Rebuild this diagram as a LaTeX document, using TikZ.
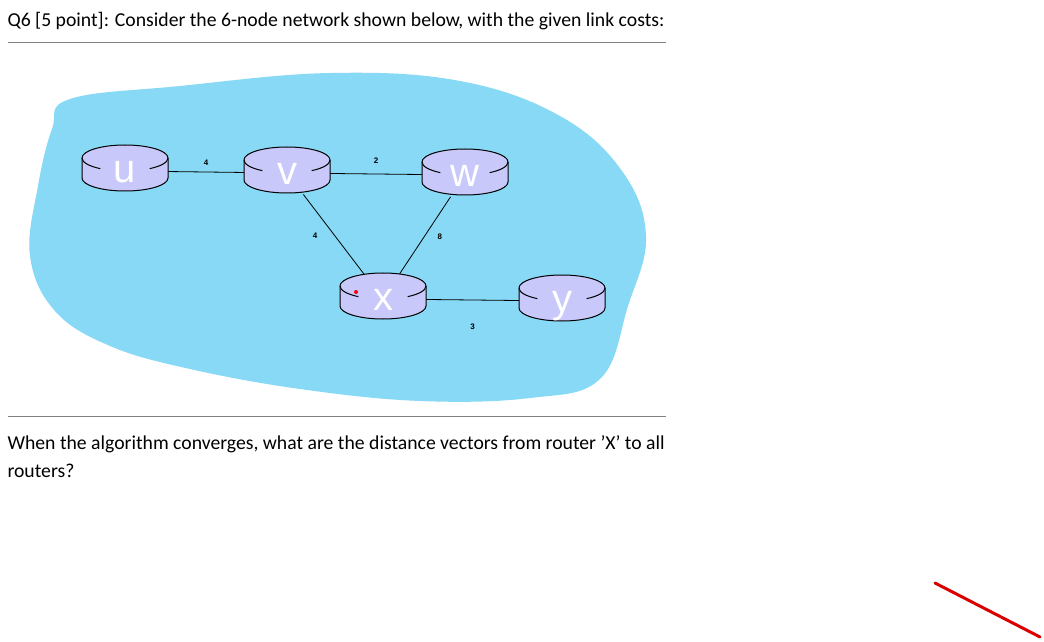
\documentclass[tikz,border=0pt]{standalone}
\usepackage{fontspec}
\setmainfont{Carlito}
\newfontfamily\linkfont{Liberation Sans}
\usetikzlibrary{shapes.geometric}
\definecolor{cloudblue}{RGB}{135,217,245}
\definecolor{routerfill}{RGB}{200,200,250}
\tikzset{
  router/.style={ellipse, minimum width=86pt, minimum height=46pt, inner sep=0pt},
  routerlabel/.style={text=white, inner sep=0pt, text height=21pt, text depth=0pt,
    font=\linkfont\fontsize{40}{40}\selectfont},
  link/.style={draw=black, line width=0.8pt},
  cost/.style={font=\linkfont\bfseries\fontsize{8}{8}\selectfont},
  body/.style={font=\fontsize{19.7}{19.7}\selectfont, anchor=west}
}
\newcommand{\drawrouter}[2]{% #1 = x, #2 = y
  \fill[routerfill, draw=black, line width=1pt]
    (#1-43,#2+10) -- (#1-43,#2-10) arc[start angle=180, end angle=360, x radius=43, y radius=13]
    -- (#1+43,#2+10) arc[start angle=0, end angle=180, x radius=43, y radius=13] -- cycle;
  \draw[line width=1pt] (#1-43,#2+10) arc[start angle=180, end angle=235, x radius=43, y radius=13];
  \draw[line width=1pt] (#1+43,#2+10) arc[start angle=360, end angle=305, x radius=43, y radius=13];
}
\begin{document}
\begin{tikzpicture}[x=1pt, y=1pt]
  \useasboundingbox (0,0) rectangle (1044,641);
  % title and rules
  \node[body] (title) at (4,620) {Q6 [5 point]: Consider the 6-node network shown below, with the given link costs:};
  \draw[gray, line width=0.6pt] (8,599) -- (666,599);
  \draw[gray, line width=0.6pt] (8,225) -- (666,225);
  \node[body] (question) at (4,197) {When the algorithm converges, what are the distance vectors from router 'X' to all};
  \node[body] (question2) at (4,170) {routers?};
  % cloud
  \fill[cloudblue] plot[smooth cycle, tension=0.65] coordinates {
    (70,542) (180,555) (330,568) (460,560) (560,525) (622,470) (646,405)
    (628,335) (600,262) (530,243) (420,240) (300,252) (190,272) (110,295)
    (55,330) (30,385) (38,455) (52,512)};
  % router places
  \node[router] (u) at (125,470) {};
  \node[router] (v) at (287,468) {};
  \node[router] (w) at (465,466) {};
  \node[router] (x) at (383,342) {};
  \node[router] (y) at (562,340) {};
  % links
  \draw[link] (u) -- node[cost, above=3pt] {4} (v);
  \draw[link] (v) -- node[cost, above=7pt] {2} (w);
  \draw[link] (v) -- node[cost, left=14pt] {4} (x);
  \draw[link] (w) -- node[cost, right=10pt] {8} (x);
  \draw[link] (x) -- node[cost, below=20pt] {3} (y);
  % routers
  \drawrouter{125}{473}
  \drawrouter{287}{471}
  \drawrouter{465}{469}
  \drawrouter{383}{345}
  \drawrouter{562}{343}
  \foreach \r in {u,v,w,x,y}
    \node[routerlabel] at ([yshift=-1pt]\r) {\r};
  \fill[red] (356,349) circle (2);
  % stroke
  \draw[red!85!black, line width=3pt, line cap=round] (935,58) -- (1040,4);
\end{tikzpicture}
\end{document}
